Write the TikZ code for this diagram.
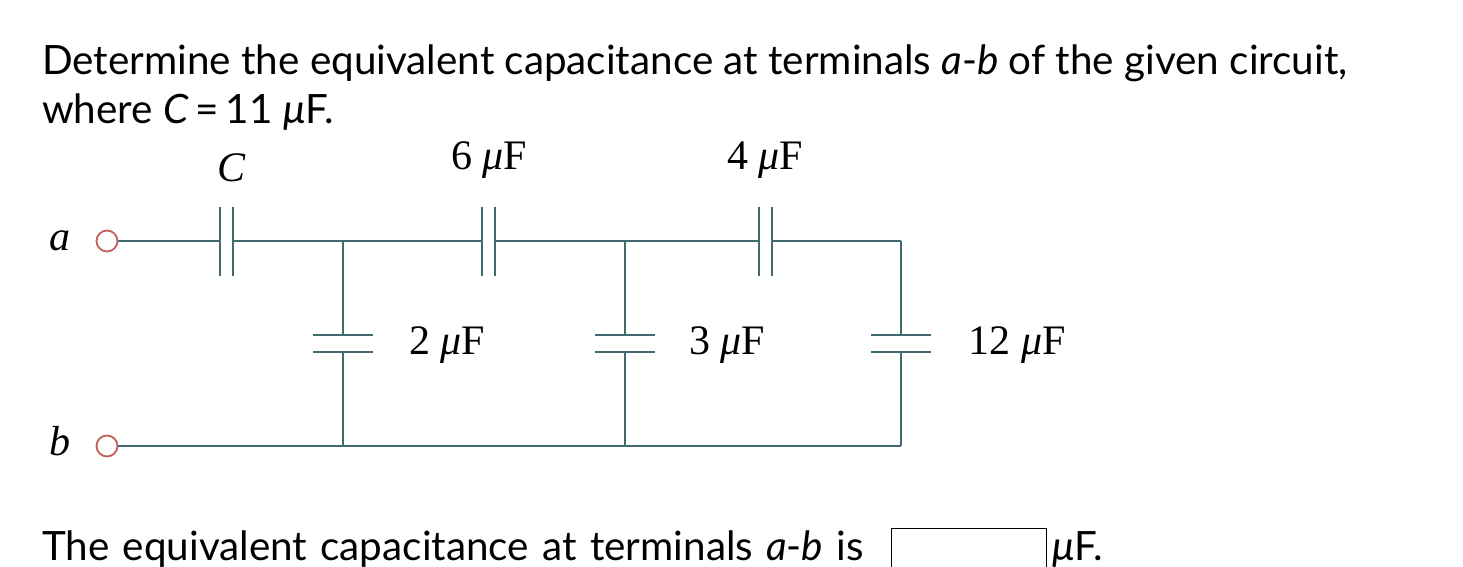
\documentclass[tikz,border=0pt]{standalone}
\usepackage{fontspec}
\setmainfont{Lato}
\newfontfamily\ser{Liberation Serif}
\begin{document}
\begin{tikzpicture}[x=1pt,y=-1pt,
  wire/.style={draw=wirec,line width=2pt},
  term/.style={circle,draw=termc,fill=white,line width=1.8pt,inner sep=0pt,minimum size=21pt},
  lab/.style={font=\ser\fontsize{42}{42}\selectfont,inner sep=0pt},
  txt/.style={font=\fontsize{40.4}{40}\selectfont,inner sep=0pt,anchor=base west}]
\definecolor{wirec}{HTML}{3F6B70}
\definecolor{termc}{HTML}{C0605A}
\useasboundingbox (0,0) rectangle (1463,567);
\node[txt] (t1) at (42,75) {Determine the equivalent capacitance at terminals \textit{a}-\textit{b} of the given circuit,};
\node[txt] (t2) at (42,124) {where \textit{C}\,=\,11 \textit{μ}F.};
\node[txt] (t3) at (42,560) {\spaceskip=0.33em plus 0.1em\relax The equivalent capacitance at terminals \textit{a}-\textit{b} is};
\node[draw=black,line width=1pt,minimum width=155pt,minimum height=50pt,anchor=north west] (box) at (891,528) {};
\node[txt] (t4) at (1052,560) {\textit{μ}F.};
% terminals
\node[term] (a) at (107,241) {};
\node[term] (b) at (107,446) {};
\node[lab,font=\ser\itshape\fontsize{42}{42}\selectfont] (la) at (60,241) {a};
\node[lab,font=\ser\itshape\fontsize{42}{42}\selectfont] (lb) at (60,441) {b};
% coordinates
\coordinate (n1) at (343,241); \coordinate (n2) at (625,241); \coordinate (n3) at (901,241);
\coordinate (m1) at (343,446); \coordinate (m2) at (625,446); \coordinate (m3) at (901,446);
% series caps
\foreach \x/\n in {220/c,482/s,759/f}{
  \coordinate (\n L) at (\x,241); \coordinate (\n R) at (\x+13,241);
  \draw[wire] (\x,207) -- (\x,276); \draw[wire] (\x+13,207) -- (\x+13,276);
}
\draw[wire] (a) -- (cL); \draw[wire] (cR) -- (n1) -- (sL);
\draw[wire] (sR) -- (n2) -- (fL); \draw[wire] (fR) -- (n3);
% shunt caps
\foreach \n/\x in {1/343,2/625,3/901}{
  \coordinate (p\n) at (\x,335); \coordinate (q\n) at (\x,352);
  \draw[wire] (\x-30,335) -- (\x+30,335); \draw[wire] (\x-30,352) -- (\x+30,352);
  \draw[wire] (n\n) -- (p\n); \draw[wire] (q\n) -- (m\n);
}
\draw[wire] (b) -- (m1) -- (m2) -- (m3);
% labels
\node[lab,font=\ser\itshape\fontsize{42}{42}\selectfont] (lC) at (232,168) {C};
\node[lab] (l6) at (489,160) {6 \textit{μ}F};
\node[lab] (l4) at (765,160) {4 \textit{μ}F};
\node[lab] (l2) at (447,345) {2 \textit{μ}F};
\node[lab] (l3) at (727,345) {3 \textit{μ}F};
\node[lab] (l12) at (1017,345) {12 \textit{μ}F};
\end{tikzpicture}
\end{document}
